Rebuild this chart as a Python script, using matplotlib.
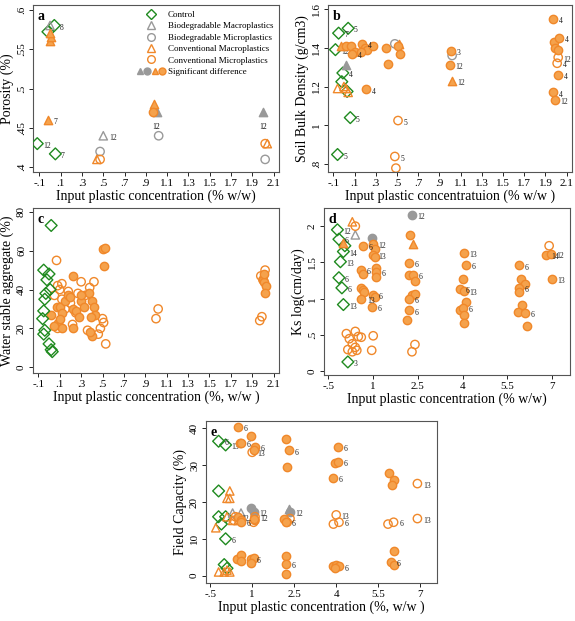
import matplotlib
matplotlib.use("Agg")
import matplotlib.pyplot as plt
from matplotlib.lines import Line2D
from matplotlib.legend_handler import HandlerTuple

plt.rcParams['font.family'] = ['Liberation Serif', 'DejaVu Serif']

GREEN = '#1f8a1f'; GRAY = '#999999'; ORANGE = '#f0882a'; OFILL = '#f5a24c'

# ---------- Panel a: porosity ----------
a_ctrl_x = [-0.12, 0.05, -0.02, 0.04]; a_ctrl_y = [0.430, 0.417, 0.572, 0.580]; a_ctrl_l = ['12', '7', '', '8']
a_bmac_x = [0.0, 0.5]; a_bmac_y = [0.580, 0.440]; a_bmac_l = ['', '12']
a_bmac_sig_x = [1.0, 2.0]; a_bmac_sig_y = [0.470, 0.470]; a_bmac_sig_l = ['12', '12']
a_bmic_x = [0.47, 1.02, 2.02]; a_bmic_y = [0.420, 0.440, 0.410]
a_cmac_x = [0.44, 2.04]; a_cmac_y = [0.410, 0.430]
a_cmac_sig_x = [-0.02, 0.0, 0.01, 0.0, 0.98]; a_cmac_sig_y = [0.460, 0.560, 0.565, 0.570, 0.480]; a_cmac_sig_l = ['7', '', '', '', '']
a_cmic_x = [0.47, 2.02]; a_cmic_y = [0.410, 0.430]
a_cmic_sig_x = [0.97]; a_cmic_sig_y = [0.470]

# ---------- Panel b: bulk density ----------
b_ctrl_x = [-0.05, 0.04, -0.08, -0.01, -0.02, 0.03, 0.06, -0.06]
b_ctrl_y = [1.475, 1.50, 1.39, 1.27, 1.225, 1.175, 1.04, 0.85]
b_ctrl_l = ['7', '5', '12', '4', '', '', '5', '5']
b_cmic_sig_x = [0.02, 0.07, 0.10, 0.08, 0.17, 0.20, 0.22, 0.27, 0.16, 0.21, 0.40, 0.42, 0.51, 0.53, 1.01, 1.00,
                1.97, 1.98, 2.03, 1.99, 2.02, 2.02, 1.97, 1.99]
b_cmic_sig_y = [1.41, 1.41, 1.38, 1.37, 1.42, 1.40, 1.39, 1.41, 1.38, 1.185, 1.40, 1.315, 1.41, 1.37, 1.385, 1.31,
                1.55, 1.43, 1.45, 1.40, 1.39, 1.26, 1.17, 1.13]
b_cmic_sig_l = ['', '', '', '4', '4', '', '', '', '', '4', '', '', '', '', '3', '12', '4', '', '4', '', '', '4', '4', '12']
b_cmic_x = [0.48, 0.49, 0.51, 2.02, 2.01]; b_cmic_y = [0.84, 0.78, 1.025, 1.35, 1.32]; b_cmic_l = ['5', '', '5', '12', '4']
b_cmac_sig_x = [-0.03, 0.52, 1.02]; b_cmac_sig_y = [1.41, 1.42, 1.23]; b_cmac_sig_l = ['', '', '12']
b_cmac_x = [-0.06, 0.0, 0.04, 0.02]; b_cmac_y = [1.19, 1.20, 1.17, 1.19]
b_bmac_sig_x = [0.02]; b_bmac_sig_y = [1.31]
b_bmic_x = [0.48, 1.02]; b_bmic_y = [1.42, 1.36]

# ---------- Panel c: water stable aggregate ----------
c_ctrl_x = [0.02, -0.05, 0.0, -0.02, 0.01, -0.03, -0.04, -0.05, -0.06, -0.04, -0.05, 0.0, 0.02, 0.03]
c_ctrl_y = [73, 50, 48, 45, 40, 38, 35, 29, 25, 19, 17, 12, 9, 8]
c_cmic_x = [0.07, 0.08, 0.10, 0.05, 0.12, 0.18, 0.20, 0.27, 0.30, 0.34, 0.38, 0.42, 0.12, 0.08, 0.22, 0.48, 0.50,
            0.51, 0.53, 0.46, 0.36, 1.00, 1.02, 1.97, 1.99, 2.02, 1.98, 2.00, 0.15, 0.25]
c_cmic_y = [55, 42, 40, 37, 35, 39, 33, 38, 44, 37, 41, 44, 43, 20, 22, 20, 25, 23, 12, 17, 19, 25, 30, 24, 26, 50,
            47, 45, 30, 28]
c_cmic_sig_x = [0.50, 0.52, 0.51, 0.02, 0.07, 0.10, 0.12, 0.08, 0.10, 0.15, 0.18, 0.20, 0.22, 0.22, 0.25, 0.28, 0.30,
                0.33, 0.37, 0.40, 0.42, 0.43, 0.40, 0.38, 0.30, 0.12, 0.05, 0.22, 2.00, 2.01, 2.03, 2.02, 2.01, 0.39]
c_cmic_sig_y = [61, 61.5, 52, 27, 31, 31, 28, 23, 25, 34, 37, 36, 30, 20, 29, 26, 34, 31, 38, 34, 31, 27, 16, 18, 37,
                20, 21, 47, 45, 44, 42, 38, 48, 26]

# ---------- Panel d: Ks ----------
d_ctrl_x = [-0.2, -0.15, 0.05, 0.0, -0.1, -0.15, -0.05, 0.0, 0.15]
d_ctrl_y = [1.95, 1.82, 1.73, 1.65, 1.51, 1.29, 1.15, 0.92, 0.13]
d_ctrl_l = ['12', '6', '', '14', '13', '6', '6', '13', '3']
d_bmac_x = [0.4]; d_bmac_y = [1.88]
d_bmic_sig_x = [0.95, 2.3]; d_bmic_sig_y = [1.84, 2.15]; d_bmic_sig_l = ['', '12']
d_cmac_x = [0.3]; d_cmac_y = [2.06]
d_cmac_sig_x = [0.0, 2.35]; d_cmac_sig_y = [1.77, 1.75]
d_cmic_x = [0.4, 0.1, 0.2, 0.3, 0.4, 0.5, 0.6, 0.15, 0.3, 0.45, 1.0, 0.95, 2.3, 2.4, 6.9, 0.4]
d_cmic_y = [2.0, 0.52, 0.45, 0.38, 0.55, 0.48, 0.47, 0.30, 0.27, 0.29, 0.49, 0.29, 0.27, 0.37, 1.73, 0.33]
d_cmic_sig_x = [0.65, 1.0, 1.05, 1.0, 1.05, 0.6, 0.65, 1.1, 1.08, 1.1, 0.6, 0.65, 0.7, 0.6, 1.0, 1.05, 0.95, 2.25,
                2.2, 2.2, 2.35, 2.4, 2.3, 2.4, 2.2, 2.2, 2.15, 4.05, 4.1, 4.0, 3.9, 4.05, 4.1, 3.9, 4.0, 4.05, 4.05,
                5.9, 5.95, 6.1, 5.9, 5.9, 6.0, 5.85, 6.1, 6.15, 6.8, 6.95, 7.0]
d_cmic_sig_y = [1.73, 1.75, 1.68, 1.60, 1.58, 1.40, 1.34, 1.43, 1.37, 1.30, 1.15, 1.12, 1.10, 1.00, 1.05, 1.03, 0.89,
                1.88, 1.49, 1.33, 1.33, 1.25, 1.05, 1.07, 1.00, 0.84, 0.71, 1.63, 1.47, 1.27, 1.14, 1.11, 0.96, 0.85,
                0.87, 0.78, 0.67, 1.46, 1.27, 1.20, 1.15, 1.09, 0.91, 0.82, 0.80, 0.62, 1.60, 1.62, 1.27]
d_cmic_sig_l = ['6', '12', '', '13', '', '6', '', '', '6', '', '', '', '', '13', '6', '', '6', '',
                '6', '', '6', '', '', '', '6', '6', '', '13', '6', '', '6', '13', '', '', '6', '', '',
                '6', '', '', '6', '', '', '', '6', '', '14', '12', '13']

# ---------- Panel e: field capacity ----------
e_ctrl_x = [-0.2, 0.05, -0.2, -0.2, 0.05, -0.1, 0.05, 0.0, 0.1]
e_ctrl_y = [36.5, 35.5, 23, 16, 16, 14, 10, 3, 2]
e_ctrl_l = ['6', '13', '', '', '', '', '6', '', '']
e_cmac_x = [0.2, 0.1, 0.2, -0.3, 0.1, 0.3, 0.5, -0.2, 0.0, 0.2, 0.1]
e_cmac_y = [23, 21, 21, 13, 16, 15, 15, 1, 1, 1, 1.5]
e_bmac_x = [0.6, 0.3]; e_bmac_y = [17, 17]
e_bmic_sig_x = [0.95, 1.05, 2.35]; e_bmic_sig_y = [18.5, 17.3, 17.3]; e_bmic_sig_l = ['', '12', '12']
e_bmac_sig_x = [2.3]; e_bmac_sig_y = [18]
e_cmic_sig_x = [0.5, 0.55, 0.6, 0.95, 1.1, 1.05, 2.2, 2.3, 2.25, 4.05, 3.95, 4.05, 3.9, 5.9, 6.05, 6.0, 0.5, 0.6,
                0.6, 2.15, 2.2, 1.05, 0.45, 0.6, 0.6, 0.95, 1.05, 0.95, 2.2, 2.2, 2.2, 3.9, 4.0, 4.1, 3.95, 6.05,
                5.95, 6.05]
e_cmic_sig_y = [40.5, 36, 36, 38, 35, 34, 37, 34, 29.5, 35, 30.5, 31, 26.5, 28, 26, 24.5, 16, 15, 14.5, 15.5, 14.5,
                15.5, 4.5, 5.5, 4, 4.5, 4.7, 3.5, 5.2, 3.2, 0.5, 2.5, 3, 2.5, 2, 6.8, 3.8, 2.8]
e_cmic_sig_l = ['6', '', '6', '', '6', '', '', '6', '', '6', '', '6', '6', '', '', '', '', '', '6', '', '6', '',
                '', '', '', '6', '', '', '', '6', '', '', '', '6', '', '', '6', '']
e_cmic_x = [1.0, 1.1, 1.05, 1.1, 2.35, 2.25, 4.0, 3.9, 4.1, 5.85, 6.05, 6.9, 6.9, 0.35, 0.4]
e_cmic_y = [33.5, 16, 14.5, 15, 15.5, 14.5, 16.5, 14, 14.5, 14, 14.5, 25, 15.5, 15, 16]
e_cmic_l = ['13', '12', '', '', '', '', '13', '', '6', '', '6', '13', '13', '', '12']

W, H = 575, 621
fig = plt.figure(figsize=(W / 100, H / 100), dpi=100)


def mkax(l, t, r, b):
    return fig.add_axes([l / W, 1 - b / H, (r - l) / W, (b - t) / H])


ms = 36
def pts(ax, x, y, marker, color, filled, labels=None):
    fc = (OFILL if color == ORANGE else color) if filled else 'none'
    ax.scatter(x, y, s=ms, marker=marker, facecolors=fc, edgecolors=color, linewidths=1.0, zorder=3)
    if labels:
        for xi, yi, l in zip(x, y, labels):
            if l:
                ax.annotate(l, (xi, yi), xytext=(4, -3), textcoords='offset points', fontsize=5.5, color='#222222')


def style(ax, xlim, xt, xtl, ylim, yt, ytl, xlabel, ylabel, letter):
    ax.set_xlim(*xlim); ax.set_ylim(*ylim)
    ax.set_xticks(xt); ax.set_xticklabels(xtl, fontsize=8)
    ax.set_yticks(yt); ax.set_yticklabels(ytl, fontsize=8, rotation=90, va='center')
    ax.set_xlabel(xlabel, fontsize=10, labelpad=1)
    ax.set_ylabel(ylabel, fontsize=10, labelpad=2)
    ax.tick_params(length=3, width=0.6, pad=2)
    for s in ax.spines.values():
        s.set_color('#555555'); s.set_linewidth(0.8)
    ax.text(0.02, 0.97, letter, transform=ax.transAxes, fontsize=10, va='top', fontweight='bold')


xa = [-0.1 + 0.2 * i for i in range(12)]
xal = ['-.1', '.1', '.3', '.5', '.7', '.9', '1.1', '1.3', '1.5', '1.7', '1.9', '2.1']
xd = [-0.5, 1, 2.5, 4, 5.5, 7]; xdl = ['-.5', '1', '2.5', '4', '5.5', '7']

# a
ax = mkax(33, 5, 279, 172)
pts(ax, a_ctrl_x, a_ctrl_y, 'D', GREEN, False, a_ctrl_l)
pts(ax, a_bmac_x, a_bmac_y, '^', GRAY, False, a_bmac_l)
pts(ax, a_bmac_sig_x, a_bmac_sig_y, '^', GRAY, True)
for xi, yi, l in zip(a_bmac_sig_x, a_bmac_sig_y, a_bmac_sig_l):
    ax.annotate(l, (xi, yi), xytext=(0, -12), textcoords='offset points', fontsize=5.5, ha='center')
pts(ax, a_bmic_x, a_bmic_y, 'o', GRAY, False)
pts(ax, a_cmac_x, a_cmac_y, '^', ORANGE, False)
pts(ax, a_cmac_sig_x, a_cmac_sig_y, '^', ORANGE, True, a_cmac_sig_l)
pts(ax, a_cmic_x, a_cmic_y, 'o', ORANGE, False)
pts(ax, a_cmic_sig_x, a_cmic_sig_y, 'o', ORANGE, True)
style(ax, (-0.16, 2.15), xa, xal, (0.394, 0.606), [0.4, 0.45, 0.5, 0.55, 0.6], ['.4', '.45', '.5', '.55', '.6'],
      'Input plastic concentration (% w/w)', 'Porosity (%)', 'a')
h = [Line2D([], [], marker='D', ls='', mfc='none', mec=GREEN, ms=5.5),
     Line2D([], [], marker='^', ls='', mfc='none', mec=GRAY, ms=5.5),
     Line2D([], [], marker='o', ls='', mfc='none', mec=GRAY, ms=5.5),
     Line2D([], [], marker='^', ls='', mfc='none', mec=ORANGE, ms=5.5),
     Line2D([], [], marker='o', ls='', mfc='none', mec=ORANGE, ms=5.5),
     (Line2D([], [], marker='^', ls='', mfc=GRAY, mec=GRAY, ms=5),
      Line2D([], [], marker='o', ls='', mfc=GRAY, mec=GRAY, ms=5),
      Line2D([], [], marker='^', ls='', mfc=OFILL, mec=ORANGE, ms=5),
      Line2D([], [], marker='o', ls='', mfc=OFILL, mec=ORANGE, ms=5))]
leg = ax.legend(h, ['Control', 'Biodegradable Macroplastics', 'Biodegradable Microplastics', 'Conventional Macroplastics',
              'Conventional Microplastics', 'Significant difference'],
          handler_map={tuple: HandlerTuple(ndivide=None, pad=0.1)}, loc='upper right', frameon=False, fontsize=6.5,
          handletextpad=0.3, labelspacing=0.35, borderaxespad=0.2, handlelength=3.2, markerfirst=True)

# b
ax = mkax(328, 5, 572, 172)
pts(ax, b_ctrl_x, b_ctrl_y, 'D', GREEN, False, b_ctrl_l)
pts(ax, b_bmic_x, b_bmic_y, 'o', GRAY, False)
pts(ax, b_bmac_sig_x, b_bmac_sig_y, '^', GRAY, True)
pts(ax, b_cmac_x, b_cmac_y, '^', ORANGE, False)
pts(ax, b_cmac_sig_x, b_cmac_sig_y, '^', ORANGE, True, b_cmac_sig_l)
pts(ax, b_cmic_x, b_cmic_y, 'o', ORANGE, False, b_cmic_l)
pts(ax, b_cmic_sig_x, b_cmic_sig_y, 'o', ORANGE, True, b_cmic_sig_l)
style(ax, (-0.15, 2.15), xa, xal, (0.76, 1.62), [0.8, 1.0, 1.2, 1.4, 1.6], ['.8', '1', '1.2', '1.4', '1.6'],
      'Input plastic concentratuion (% w/w )', 'Soil Bulk Density (g/cm3)', 'b')

# c
ax = mkax(33, 208, 279, 373)
pts(ax, c_cmic_x, c_cmic_y, 'o', ORANGE, False)
pts(ax, c_cmic_sig_x, c_cmic_sig_y, 'o', ORANGE, True)
pts(ax, c_ctrl_x, c_ctrl_y, 'D', GREEN, False)
style(ax, (-0.15, 2.15), xa, xal, (-3, 82), [0, 20, 40, 60, 80], ['0', '20', '40', '60', '80'],
      'Input plastic concentration (%, w/w )', 'Water stable aggregate (%)', 'c')

# d
ax = mkax(324, 208, 570, 375)
pts(ax, d_ctrl_x, d_ctrl_y, 'D', GREEN, False, d_ctrl_l)
pts(ax, d_bmac_x, d_bmac_y, '^', GRAY, False)
pts(ax, d_bmic_sig_x, d_bmic_sig_y, 'o', GRAY, True, d_bmic_sig_l)
pts(ax, d_cmac_x, d_cmac_y, '^', ORANGE, False)
pts(ax, d_cmac_sig_x, d_cmac_sig_y, '^', ORANGE, True)
pts(ax, d_cmic_x, d_cmic_y, 'o', ORANGE, False)
pts(ax, d_cmic_sig_x, d_cmic_sig_y, 'o', ORANGE, True, d_cmic_sig_l)
style(ax, (-0.65, 7.6), xd, xdl, (-0.05, 2.25), [0, 0.5, 1, 1.5, 2], ['0', '.5', '1', '1.5', '2'],
      'Input plastic concentration (% w/w)', 'Ks log(cm/day)', 'd')

# e
ax = mkax(206, 421, 437, 583)
pts(ax, e_ctrl_x, e_ctrl_y, 'D', GREEN, False, e_ctrl_l)
pts(ax, e_cmac_x, e_cmac_y, '^', ORANGE, False)
pts(ax, e_bmac_x, e_bmac_y, '^', GRAY, False)
pts(ax, e_bmac_sig_x, e_bmac_sig_y, '^', GRAY, True)
pts(ax, e_bmic_sig_x, e_bmic_sig_y, 'o', GRAY, True, e_bmic_sig_l)
pts(ax, e_cmic_x, e_cmic_y, 'o', ORANGE, False, e_cmic_l)
pts(ax, e_cmic_sig_x, e_cmic_sig_y, 'o', ORANGE, True, e_cmic_sig_l)
style(ax, (-0.65, 7.6), xd, xdl, (-2, 42), [0, 10, 20, 30, 40], ['0', '10', '20', '30', '40'],
      'Input plastic concentration (%, w/w )', 'Field Capacity (%)', 'e')

fig.savefig('out.png', dpi=100)
